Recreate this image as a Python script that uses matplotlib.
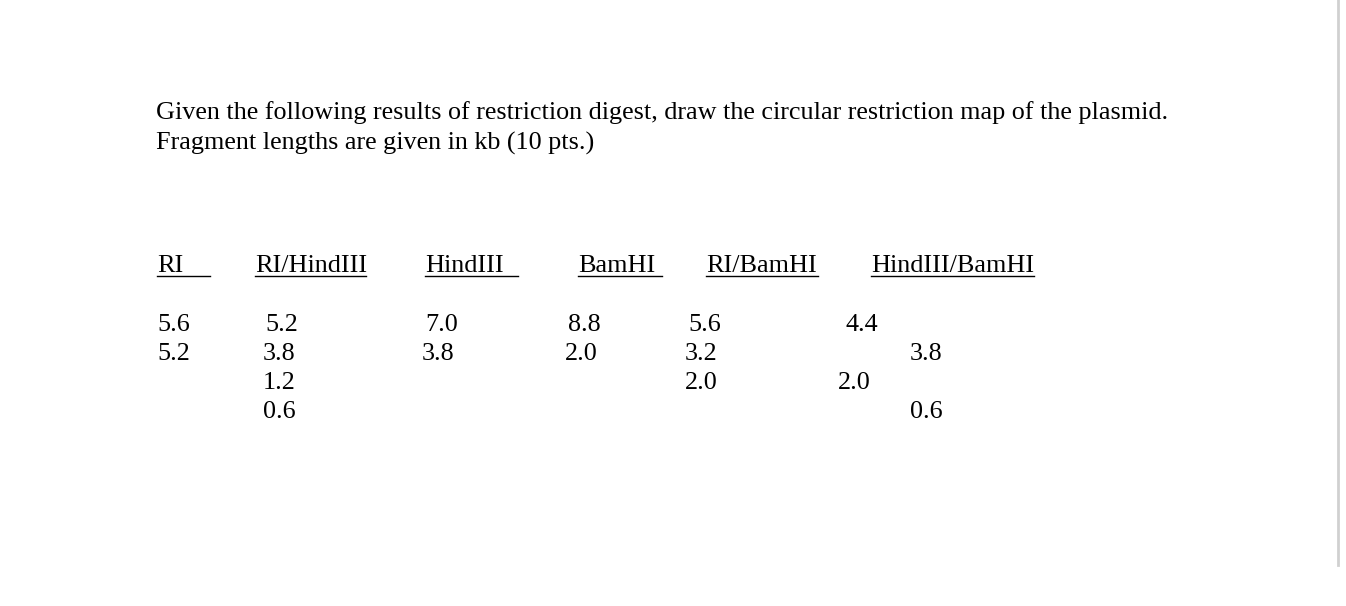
import matplotlib
matplotlib.use('Agg')
import matplotlib.pyplot as plt
from matplotlib.lines import Line2D

W, H = 1346, 606

question = ["Given the following results of restriction digest, draw the circular restriction map of the plasmid.",
            "Fragment lengths are given in kb (10 pts.)"]

headers = ["RI", "RI/HindIII", "HindIII", "BamHI", "RI/BamHI", "HindIII/BamHI"]
header_x = [157, 255, 425, 578, 706, 871]
underline_end = [210, 366, 518, 662, 818, 1034]

# fragments per digest: (value, x position, row index)
fragments = [
    [("5.6", 157, 0), ("5.2", 157, 1)],
    [("5.2", 265, 0), ("3.8", 263, 1), ("1.2", 263, 2), ("0.6", 263, 3)],
    [("7.0", 425, 0), ("3.8", 422, 1)],
    [("8.8", 568, 0), ("2.0", 565, 1)],
    [("5.6", 688, 0), ("3.2", 685, 1), ("2.0", 685, 2)],
    [("4.4", 845, 0), ("3.8", 910, 1), ("2.0", 838, 2), ("0.6", 910, 3)],
]
row_y = [325, 354, 383, 412]

fig = plt.figure(figsize=(W / 100, H / 100), dpi=100)
font = dict(family=['Liberation Serif', 'DejaVu Serif'], color='black')
size = 18.8

def fx(x):
    return x / W

def fy(y):
    return 1 - y / H

for i, line in enumerate(question):
    fig.text(fx(156), fy(119 + i * 31), line, fontsize=size, va='baseline', **font)

for h, x, xe in zip(headers, header_x, underline_end):
    fig.text(fx(x), fy(272), h, fontsize=size, va='baseline', **font)
    fig.add_artist(Line2D([fx(x), fx(xe)], [fy(276), fy(276)], color='black', lw=1))

for col in fragments:
    for val, x, r in col:
        fig.text(fx(x), fy(row_y[r]), val, fontsize=size, va='center', **font)

# page edge on the right
fig.add_artist(Line2D([fx(1338), fx(1338)], [fy(0), fy(565)], color='#d0d0d0', lw=2))

fig.savefig('out.png', dpi=100, facecolor='white')
